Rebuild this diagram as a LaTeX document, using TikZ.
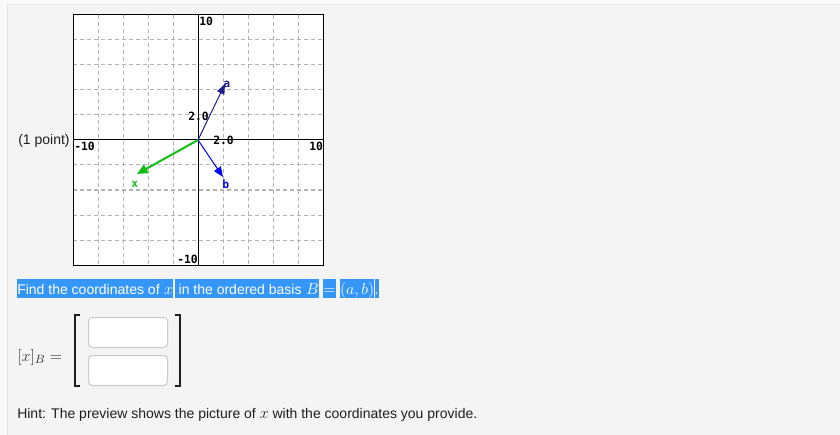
\documentclass[tikz,border=0pt]{standalone}
\usepackage{fontspec}
\setmainfont{Liberation Sans}
\newfontfamily\glabfont{DejaVu Sans Mono}
\usetikzlibrary{arrows.meta}
\definecolor{outerbg}{HTML}{FAFAFA}
\definecolor{panelbg}{HTML}{F4F4F4}
\definecolor{panelline}{HTML}{E4E4E4}
\definecolor{gridc}{HTML}{B4B4B4}
\definecolor{hlc}{HTML}{3596FA}
\definecolor{navyc}{HTML}{1E1E8C}
\definecolor{bluec}{HTML}{0000FF}
\definecolor{greenc}{HTML}{12BE12}
\definecolor{txtc}{HTML}{1E1E1E}
\definecolor{mathc}{HTML}{333333}
\definecolor{boxline}{HTML}{CACACA}
\newcommand\mymathsize{\fontsize{12.5}{14}\selectfont}
\newcommand\hlmathsize{\fontsize{13}{14}\selectfont}
\tikzset{
  gridline/.style={gridc, line width=0.75pt, dash pattern=on 3pt off 2.25pt},
  glab/.style={font=\glabfont\bfseries\fontsize{8.5}{9}\selectfont, inner sep=0pt, anchor=base west},
  hl/.style={fill=hlc, text=white, inner xsep=0pt, inner ysep=0pt, text height=11.25pt, text depth=3pt, anchor=base west, font=\fontsize{10.5}{12}\selectfont},
  hlm/.style={hl, font=\hlmathsize},
  plain/.style={text=txtc, inner sep=0pt, anchor=base west, font=\fontsize{10.5}{12}\selectfont},
  inbox/.style={draw=boxline, fill=white, line width=0.75pt, rounded corners=3pt},
  brack/.style={draw=txtc, line width=1.2pt},
  vec/.style={line width=0.75pt}
}
\begin{document}
\begin{tikzpicture}[x=0.75pt,y=-0.75pt]
\useasboundingbox (0,0) rectangle (840,435);
\fill[outerbg] (0,0) rectangle (840,435);
\fill[panelbg] (7,5) rectangle (840,435);
\draw[panelline, line width=0.75pt] (7,435) -- (7,5) -- (840,5);

% graph
\fill[white] (73,15) rectangle (323,265);
\foreach \i in {98,123,148,173,223,248,273,298} \draw[gridline] (\i,15) -- (\i,265);
\foreach \j in {40,65,90,115,165,190,215,240} \draw[gridline] (73,\j) -- (323,\j);
\draw[black, line width=0.75pt] (198,15) -- (198,265);
\draw[black, line width=0.75pt] (73,140) -- (323,140);
\draw[black, line width=0.75pt] (73,15) rectangle (323,265);

\node[glab] (ytop) at (199,26) {10};
\node[glab] (ytwo) at (188,121) {2.0};
\node[glab] (xtwo) at (213,145) {2.0};
\node[glab] (xleft) at (74,151) {-10};
\node[glab] (xright) at (309,151) {10};
\node[glab] (ybot) at (177,263) {-10};

\coordinate (O) at (198,140);
\coordinate (A) at (225,84);
\coordinate (Bt) at (223,177);
\coordinate (X) at (137,174);
\draw[vec, navyc, -{Triangle[length=7.5pt,width=6pt]}] (O) -- (A);
\draw[vec, bluec, -{Triangle[length=7.5pt,width=6pt]}] (O) -- (Bt);
\draw[greenc, line width=1.5pt, -{Triangle[length=8pt,width=7pt]}] (O) -- (X);
\node[glab, text=navyc] (la) at (223,88) {a};
\node[glab, text=bluec] (lb) at (222,189) {b};
\node[glab, text=greenc] (lx) at (131,188) {x};

\node[plain] (pts) at (18,145) {(1 point)};

% highlighted sentence
\node[hl] (s1) at (17,294) {Find the coordinates of\hspace*{3pt}};
\node[hlm] (s2) at (s1.base east) {$x$};
\node[hl] (s3) at ([xshift=0.75pt]s2.base east) {\hspace*{3pt}in the ordered basis\hspace*{3pt}};
\node[hlm] (s4) at (s3.base east) {$B$};
\node[hlm] (s5) at ([xshift=3pt]s4.base east) {$=$};
\node[hlm] (s6) at ([xshift=3pt]s5.base east) {$(a,b)$};
\node[hl] (s7) at (s6.base east) {.};

% answer
\node[inner sep=0pt, anchor=base west, text=mathc, font=\mymathsize] (lhs) at (17,361) {$[x]_B=$};
\draw[brack] (80,315) -- (75,315) -- (75,386) -- (80,386);
\draw[brack] (175,315) -- (180,315) -- (180,386) -- (175,386);
\node[inbox, minimum width=59.25pt, minimum height=22.5pt, anchor=north west] (box1) at (88,317) {};
\node[inbox, minimum width=59.25pt, minimum height=22.5pt, anchor=north west] (box2) at (88,355) {};

\node[plain] (hint) at (17,418) {Hint: The preview shows the picture of {\hlmathsize$x$} with the coordinates you provide.};
\end{tikzpicture}
\end{document}
